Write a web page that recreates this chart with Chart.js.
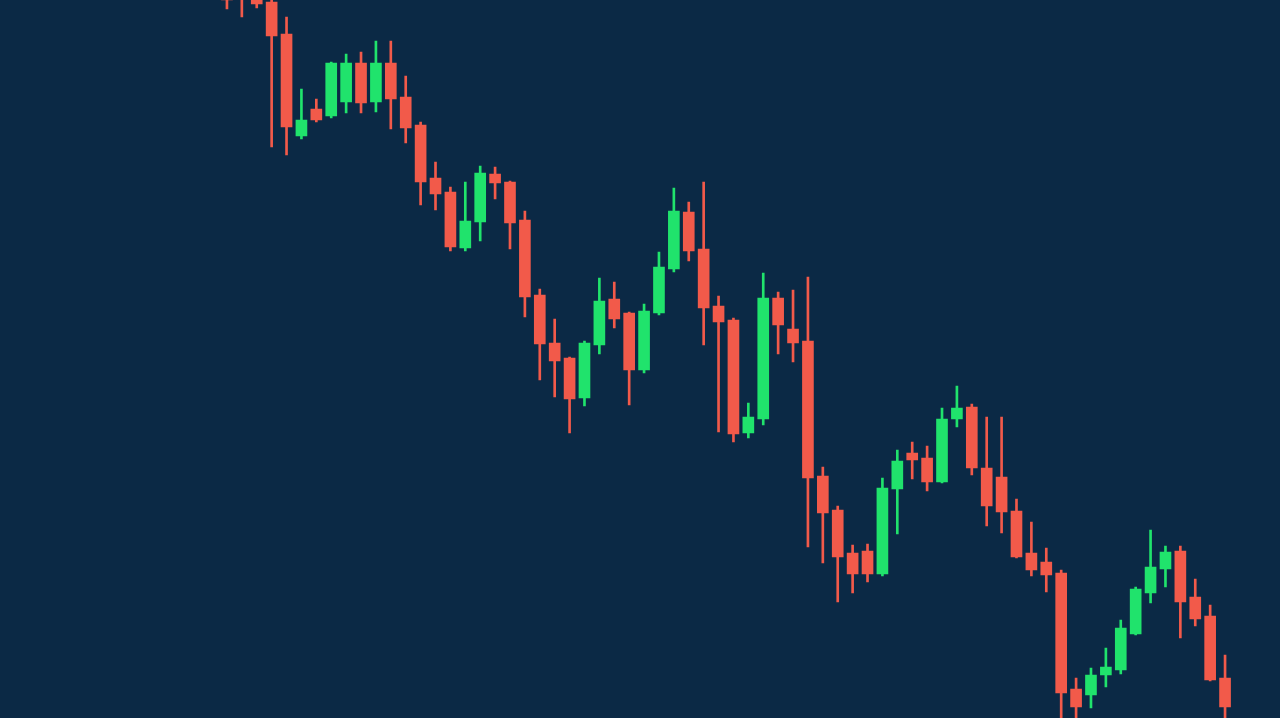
<!DOCTYPE html>
<html>
<head>
<meta charset="utf-8">
<script src="https://cdn.jsdelivr.net/npm/chart.js@4.4.1/dist/chart.umd.min.js"></script>
<style>
    html, body { margin: 0; padding: 0; background: #0b2945; }
    #wrap { width: 1280px; height: 718px; }
</style>
</head>
<body>
<div id="wrap"><canvas id="candleChart"></canvas></div>
<script>
// OHLC, one entry per candle
const opens  = [726, 728, 723, 716, 684, 582, 609, 602, 616, 655, 616, 655, 621, 593, 540, 526, 470, 496, 544, 536,
                498, 423, 375, 360, 320, 373, 419, 405, 348, 405, 449, 506, 469, 412, 398, 285, 299, 420, 389, 377,
                242, 208, 165, 167, 144, 229, 265, 260, 236, 299, 311, 250, 241, 207, 165, 156, 145, 29, 23, 43,
                48, 84, 125, 149, 167, 121, 102, 40];
const highs  = [730, 732, 728, 723, 701, 629, 619, 656, 664, 666, 677, 677, 642, 596, 556, 531, 536, 552, 551, 537,
                507, 429, 399, 361, 377, 440, 436, 406, 414, 466, 530, 516, 536, 422, 400, 315, 445, 426, 428, 441,
                251, 212, 173, 174, 240, 268, 276, 272, 310, 332, 314, 301, 301, 219, 196, 170, 148, 40, 50, 70,
                98, 131, 188, 172, 172, 139, 113, 63];
const lows   = [709, 701, 710, 571, 563, 579, 596, 600, 605, 605, 606, 589, 575, 513, 508, 467, 467, 477, 519, 469,
                401, 338, 321, 285, 312, 364, 390, 313, 345, 403, 446, 457, 373, 286, 276, 280, 293, 364, 356, 171,
                155, 116, 125, 136, 142, 184, 239, 227, 235, 291, 243, 192, 185, 160, 142, 126, -12, -12, 10, 31,
                44, 83, 115, 131, 80, 92, 37, -12];
const closes = [718, 720, 714, 682, 591, 598, 598, 655, 655, 615, 655, 619, 590, 536, 524, 471, 497, 545, 535, 495,
                421, 374, 357, 319, 375, 417, 399, 348, 407, 451, 507, 467, 410, 396, 284, 301, 420, 393, 375, 240,
                205, 161, 144, 144, 230, 257, 258, 236, 299, 310, 250, 212, 206, 161, 148, 143, 25, 11, 43, 51,
                90, 129, 151, 166, 116, 99, 38, 11];

const upColor = "#20e36c";
const downColor = "#f25a4a";

const labels = opens.map((o, i) => "t" + (i + 1));
const bodies = opens.map((o, i) => [o, closes[i]]);
const wicks = lows.map((l, i) => [l, highs[i]]);
const colors = opens.map((o, i) => closes[i] >= o ? upColor : downColor);

const ctx = document.getElementById("candleChart").getContext("2d");

new Chart(ctx, {
    type: "bar",
    data: {
        labels: labels,
        datasets: [
            {
                label: "body",
                data: bodies,
                backgroundColor: colors,
                borderWidth: 0,
                borderSkipped: false,
                barThickness: 11,
                minBarLength: 3,
                grouped: false
            },
            {
                label: "wick",
                data: wicks,
                backgroundColor: colors,
                borderWidth: 0,
                borderSkipped: false,
                barThickness: 2,
                grouped: false
            }
        ]
    },
    options: {
        responsive: true,
        maintainAspectRatio: false,
        animation: false,
        layout: { padding: { left: 219.5, right: 47.5, top: 0, bottom: 0 } },
        plugins: {
            legend: { display: false },
            tooltip: { enabled: false }
        },
        scales: {
            x: { display: false, offset: true },
            y: { display: false, min: 0, max: 718 }
        }
    }
});
</script>
</body>
</html>
